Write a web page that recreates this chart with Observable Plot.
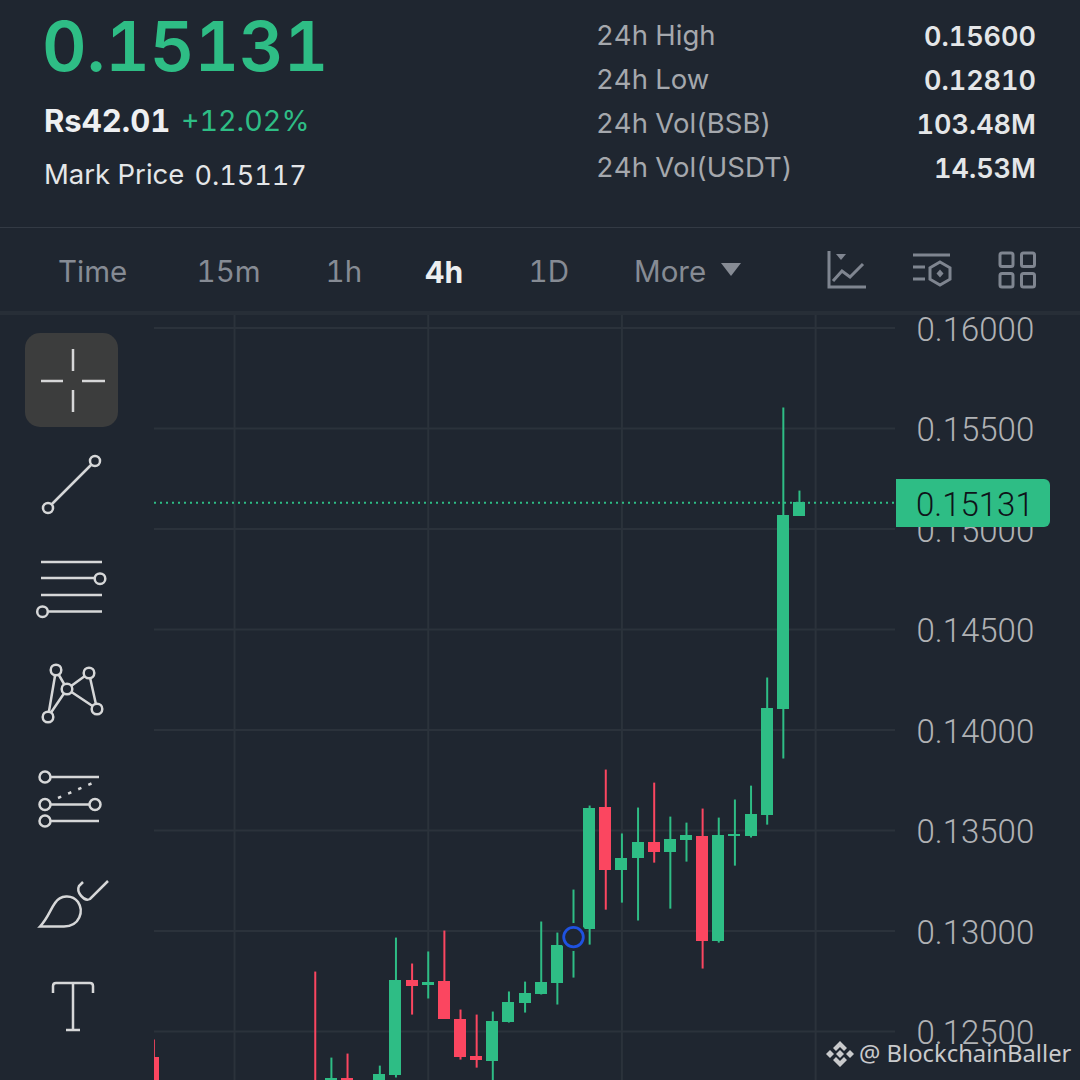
<!DOCTYPE html>
<html><head><meta charset="utf-8">
<script src="https://cdn.jsdelivr.net/npm/d3@7"></script>
<script src="https://cdn.jsdelivr.net/npm/@observablehq/plot@0.6"></script>
<style>
html,body{margin:0;padding:0;background:#1f2630}
#page{position:relative;width:1080px;height:1080px;overflow:hidden;background:#1f2630;font-family:Inter,sans-serif;font-variant-numeric:tabular-nums;font-feature-settings:"tnum" 1}
#page svg{position:absolute;left:0}
.t{position:absolute;white-space:nowrap;line-height:1;transform:translateY(-50%)}
.ico *{fill:none;stroke:#d6d7d8;stroke-width:2.5}
.ico2 *{fill:none;stroke:#7f8590;stroke-width:3}
</style></head><body><div id="page"></div>
<script>
const candleIndex=[0,10,11,12,14,15,16,17,18,19,20,21,22,23,24,25,26,27,28,29,30,31,32,33,34,35,36,37,38,39,40];
const openPrices =[.12373,.1221,.12184,.12264,.12184,.12279,.12756,.12731,.12751,.12562,.12378,.12353,.12547,.12642,.12682,.12741,.1293,.1301,.13617,.13299,.13363,.13443,.13393,.13453,.13468,.1295,.13468,.13468,.13577,.14104,.15065];
const closePrices=[.12184,.1216,.12264,.1221,.12284,.12756,.12726,.12746,.12562,.12373,.12358,.12552,.12647,.12687,.12746,.1293,.1298,.13612,.13299,.13363,.13443,.13393,.13458,.13473,.1295,.13473,.13478,.13582,.14109,.1507,.15131];
const highPrices =[.12458,.12796,.12368,.12388,.12328,.12965,.12836,.12896,.13,.12607,.12582,.12597,.12697,.12746,.13045,.1299,.13204,.13622,.13801,.13483,.13612,.13736,.13567,.13537,.13607,.13562,.13652,.13721,.14259,.15602,.15189];
const lowPrices  =[.12159,.1211,.12134,.1216,.1216,.12269,.12582,.12662,.12562,.12358,.12318,.12234,.12542,.12592,.12682,.12632,.12766,.1293,.13104,.13139,.1305,.13338,.13109,.13343,.12811,.1294,.13323,.13463,.13527,.13856,.15065];
const priceTicks=[.125,.13,.135,.14,.145,.15,.155,.16];
const timeGrid=[5,17,29,41];
const lastPrice=.15131, markerIndex=26, markerPrice=.1297;
const headerStats=[["24h High","0.15600"],["24h Low","0.12810"],["24h Vol(BSB)","103.48M"],["24h Vol(USDT)","14.53M"]];
const tabs=[["Time",58],["15m",196.5],["1h",325.5],["4h",425],["1D",528.5],["More",634]];

const BG="#1f2630",GREEN="#2ebd85",RED="#fb4660",GRID="#2b323b";
const candles=candleIndex.map((i,k)=>({i,o:openPrices[k],c:closePrices[k],h:highPrices[k],l:lowPrices[k]}));
const up=candles.filter(d=>d.c>=d.o), down=candles.filter(d=>d.c<d.o);
const bw=.372;
const candleMarks=(data,col)=>[
  Plot.ruleX(data,{x:"i",y1:"l",y2:"h",stroke:col,strokeWidth:2,clip:"frame"}),
  Plot.rect(data,{x1:d=>d.i-bw,x2:d=>d.i+bw,y1:"o",y2:"c",fill:col,clip:"frame",shapeRendering:"crispEdges"})
];
const chart=Plot.plot({
  width:1080,height:768,marginTop:0,marginBottom:0,marginLeft:154,marginRight:185,
  style:{background:"transparent",overflow:"visible"},
  x:{type:"linear",domain:[.04,45.95],axis:null},
  y:{domain:[.122565,.160775],axis:null},
  marks:[
    Plot.gridX(timeGrid,{stroke:GRID,strokeOpacity:1,strokeWidth:2}),
    Plot.gridY(priceTicks,{stroke:GRID,strokeOpacity:1,strokeWidth:2}),
    ...candleMarks(up,GREEN),
    ...candleMarks(down,RED),
    Plot.ruleY([lastPrice],{stroke:GREEN,strokeWidth:2,strokeDasharray:"2,4"}),
    Plot.dot([[markerIndex,markerPrice]],{x:"0",y:"1",r:14,fill:BG,stroke:"none"}),
    Plot.dot([[markerIndex,markerPrice]],{x:"0",y:"1",r:9.8,fill:"none",stroke:"#1f52e0",strokeWidth:2.8}),
    Plot.axisY(priceTicks,{anchor:"right",tickSize:0,tickPadding:21,dy:2,tickFormat:d3.format(".5f"),fontSize:33,fontFamily:"Roboto",fontWeight:300,fill:"#b0b2b5",textAnchor:"start",label:null})
  ]
});
chart.style.top="312px";
const page=document.getElementById("page");
page.appendChild(chart);

function text(s,cy,size,weight,color,pos){
  const e=document.createElement("div");e.className="t";e.textContent=s;
  e.style.top=cy+"px";e.style.fontSize=size+"px";e.style.fontWeight=weight;e.style.color=color;
  Object.assign(e.style,pos);page.appendChild(e);return e;
}
text("0.15131",46,69,600,GREEN,{left:"42px"});
text("Rs42.01",120,31,700,"#eef0f2",{left:"44px"});
text("+12.02%",120.5,28.6,400,GREEN,{left:"181px"});
text("Mark Price",174.5,27.5,400,"#e4e6e8",{left:"44px"});
text("0.15117",174.5,27,400,"#e4e6e8",{left:"194.5px"});
headerStats.forEach(([a,b],k)=>{
  text(a,36+44*k,27.5,400,"#a5a8ad",{left:"596px"});
  text(b,36+44*k,27,600,"#e4e6e8",{right:"44px"});
});
tabs.forEach(([s,x])=>text(s,271.5,s==="4h"?30:29.5,s==="4h"?700:400,s==="4h"?"#eceef0":"#868b94",{left:x+"px"}));

const rule=(top,h,c)=>{const e=document.createElement("div");e.style.cssText=`position:absolute;left:0;width:1080px;top:${top}px;height:${h}px;background:${c}`;page.appendChild(e)};
rule(227,1,"#333a44");
rule(311,4,"#272e37");

// price tag over the axis
const tagY=312+chart.scale("y").apply(lastPrice);
const tag=document.createElement("div");
tag.style.cssText=`position:absolute;left:896px;top:${Math.round(tagY-23.5)}px;width:154px;height:48px;background:${GREEN};border-radius:0 6px 6px 0`;
page.appendChild(tag);
const tagText=text("0.15131",tagY+1.5,33,300,"#0e1319",{left:"916px",fontFamily:"Roboto"});

// chrome icons
const ns=document.createElement("div");
ns.innerHTML=`<svg width="1080" height="1080" style="top:0;pointer-events:none">
<rect x="25" y="333" width="93" height="94" rx="15" fill="#3c3d3d"/>
<g class="ico">
<path d="M73 349V371M73 390V412M41 381H63M82 381H105"/>
<path d="M52 504L91 465"/><circle cx="48" cy="508" r="5"/><circle cx="95" cy="461" r="5"/>
<path d="M41 562H102M41 578H95M41 595H102M48 611.5H102"/><circle cx="100" cy="578.7" r="5.3"/><circle cx="42.5" cy="611.7" r="5.3"/>
<path d="M56 670L48 717M56 670L67 689M48 717L67 689M67 689L89 673M67 689L97 709M89 673L97 709"/>
<circle cx="56" cy="670" r="5.3" style="fill:#1f2630"/><circle cx="89" cy="673" r="5.3" style="fill:#1f2630"/><circle cx="67" cy="689" r="5.3" style="fill:#1f2630"/><circle cx="48" cy="717" r="5.3" style="fill:#1f2630"/><circle cx="97" cy="709" r="5.3" style="fill:#1f2630"/>
<path d="M51 777H99M51 804.5H90M51 821H99"/><circle cx="45" cy="777" r="5.5"/><circle cx="45" cy="804.5" r="5.5"/><circle cx="95" cy="804.5" r="5.5"/><circle cx="45" cy="821" r="5.5"/>
<path d="M58 798L95 782" stroke-dasharray="3.5 7.5"/>
<path d="M40 926.5C48 918 50 910 55 903C60 895 72 894 78 902C84 911 80 926 64 926.5Z"/>
<path d="M83 882L79 886C76 892 84 902 90 899L108 881"/>
<path d="M53 993V986Q53 983 56 983H90Q93 983 93 986V993M73 983V1030M66 1030H80"/>
</g>
<g class="ico2">
<path d="M829 251V287H866M833 281L842 271L850 277L863 264"/>
<path d="M836 254H846L841 260Z" style="fill:#7f8590;stroke:none"/>
<path d="M913 255H950M913 267H925M913 279H925"/>
<path d="M940 262L950 267.8V279.2L940 285L930 279.2V267.8Z"/>
<path d="M940 269.5L943.5 273.5L940 277.5L936.5 273.5Z" style="fill:#7f8590;stroke:none"/>
<rect x="1000" y="253" width="13" height="13.5" rx="2"/><rect x="1021.5" y="253" width="13" height="13.5" rx="2"/>
<rect x="1000" y="273.5" width="13" height="13.5" rx="2"/><rect x="1021.5" y="273.5" width="13" height="13.5" rx="2"/>
</g>
<path d="M721 263H741L731 276Z" fill="#868b94"/>
<g fill="#c9cacc">
<path d="M840 1041L847 1048L844 1051L840 1047L836 1051L833 1048Z"/>
<path d="M840 1067L847 1060L844 1057L840 1061L836 1057L833 1060Z"/>
<path d="M840 1050L844 1054L840 1058L836 1054Z"/>
<path d="M830 1050L834 1054L830 1058L826 1054Z"/>
<path d="M850 1050L854 1054L850 1058L846 1054Z"/>
</g>
</svg>`;
page.appendChild(ns.firstChild);
text("@ BlockchainBaller",1054,23.8,400,"#c9cacc",{left:"859px",fontFamily:"'Noto Sans'"});
</script></body></html>
